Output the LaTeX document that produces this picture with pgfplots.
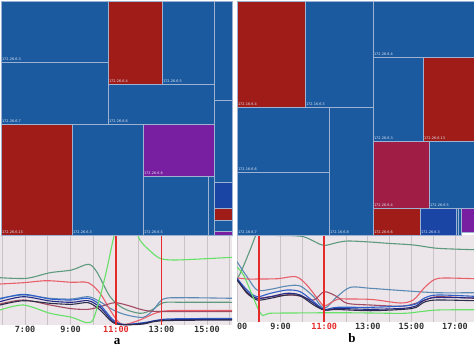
\documentclass[border=0pt]{standalone}
\usepackage{fontspec}
\usepackage{pgfplots}
\pgfplotsset{compat=1.18}
\setmainfont{DejaVu Sans}
\newfontfamily\tickfont{DejaVu Sans Mono}
\newfontfamily\capfont{Liberation Serif}
\definecolor{tmblue}{HTML}{1C5AA0}
\definecolor{tmred}{HTML}{A01C18}
\definecolor{tmpurple}{HTML}{781EA0}
\definecolor{tmcrimson}{HTML}{A01E46}
\definecolor{tmdblue}{HTML}{1A45A5}
\definecolor{tmline}{HTML}{9DB2D2}
\definecolor{lcbg}{HTML}{ECE6EA}
\definecolor{lcgrid}{HTML}{C9C3C7}
\definecolor{vred}{HTML}{E52A2A}
\definecolor{cGG}{HTML}{5E9A7E}
\definecolor{cSB}{HTML}{5B8BB5}
\definecolor{cRD}{HTML}{E8606A}
\definecolor{cMR}{HTML}{A34B62}
\definecolor{cBL}{HTML}{2F5FC9}
\definecolor{cNV}{HTML}{252A85}
\definecolor{cDK}{HTML}{2D2D4A}
\definecolor{cGR}{HTML}{66E066}
\newcommand{\tm}[5]{\addplot[fill=#5,draw=tmline,line width=0.6pt] coordinates {(#1,#2) (#3,#2) (#3,#4) (#1,#4) (#1,#2)};}
\newcommand{\tl}[3]{\node[anchor=south west,inner sep=0.8pt,font=\fontsize{3.5}{4}\selectfont,text=white!85!tmblue] at (axis cs:#1,#2) {#3};}
\pgfplotsset{
  lc/.style={scale only axis, axis background/.style={fill=lcbg},
    axis line style={draw=none}, ytick=\empty, major tick length=0pt,
    xmajorgrids, grid style={lcgrid, line width=0.9pt},
    xticklabel style={font=\tickfont\bfseries\fontsize{8.5}{9}\selectfont, text=black!80, anchor=north, inner sep=0pt, yshift=-0.8pt},
    every axis plot/.append style={line width=1.1pt, no markers}},
}
\begin{document}
\begin{tikzpicture}
\useasboundingbox (0pt,0pt) rectangle (474pt,-348pt);
% left line chart
\begin{axis}[lc, at={(0pt,-235pt)}, anchor=north west, width=232pt, height=90pt,
  xmin=5.9, xmax=16.1, ymin=0, ymax=90,
  xtick={6,...,16}, xticklabels={,7:00,,9:00,,{\color{vred}11:00},,13:00,,15:00,}]
\addplot[cGG, smooth] coordinates {(5.9,47.3) (7.07,46.7) (8.1,52.3) (9.05,55) (9.78,60.7) (10.15,53.3) (10.74,28.3) (11.32,16.7) (12.05,11.7) (12.57,15) (13.08,22.3) (13.96,22.7) (16.1,22.7)};
\addplot[cSB, smooth] coordinates {(5.9,26.7) (6.93,30) (8.1,26.7) (9.05,26) (9.78,28.3) (10.3,23.3) (10.88,15) (11.47,10) (12.2,7.7) (12.64,15) (13.08,26) (13.96,27.3) (16.1,26.7)};
\addplot[cRD, smooth] coordinates {(5.9,41) (6.93,42.3) (7.95,44.3) (9.05,42.7) (9.78,42.3) (10.3,31.7) (10.74,15) (11.1,3.3) (11.39,0.5) (12.05,5) (12.79,12.3) (13.52,14.5) (16.1,14.5)};
\addplot[cMR, smooth] coordinates {(5.9,21) (6.93,25) (8.1,20) (9.05,16.3) (9.78,15.7) (10.3,18.3) (10.95,22.3) (11.61,19) (12.2,15) (12.93,13.5) (16.1,13.5)};
\addplot[cBL, smooth] coordinates {(5.9,26) (6.93,30.7) (8.1,26) (9.05,25) (9.78,26.7) (10.3,20) (10.88,5) (11.32,0.7) (12.2,2.3) (13.08,5.7) (13.96,6.3) (16.1,6.7)};
\addplot[cNV, smooth] coordinates {(5.9,23.3) (6.93,28.3) (8.1,24) (9.05,22.7) (9.78,24.3) (10.3,17.7) (10.88,3.3) (11.32,0.3) (12.2,1.7) (13.08,5) (16.1,5.7)};
\addplot[cDK, smooth] coordinates {(5.9,20) (6.93,24.3) (8.1,21.7) (9.05,20.7) (9.78,22.3) (10.3,15) (10.88,2.3) (11.47,0.3) (12.2,1) (13.08,4.3) (16.1,5)};
\addplot[cGR, smooth] coordinates {(5.9,15) (6.93,20) (8.1,11.7) (9.05,7.7) (9.71,2.3) (10.0,5.7) (10.3,28.3) (10.59,55) (10.95,91.7) (11.32,108) (11.76,101.7) (12.05,85) (12.49,74.3) (12.93,66.7) (13.52,65) (14.69,66) (16.1,67.7)};
\addplot[ycomb, draw=vred, line width=1.6pt] coordinates {(11,90) (13,90)};
\end{axis}
% right line chart
\begin{scope}
\clip (237pt,0pt) rectangle (474pt,-348pt);
\begin{axis}[lc, at={(237pt,-235pt)}, anchor=north west, width=237pt, height=87pt,
  xmin=7, xmax=17.87, ymin=3, ymax=90,
  xtick={7,...,17}, xticklabels={7:00,,9:00,,{\color{vred}11:00},,13:00,,15:00,,17:00}]
\addplot[cGG, smooth] coordinates {(7.0,46) (7.2,54) (7.6,75) (7.95,94) (8.2,96) (8.55,90) (9.3,89.5) (10.05,88.3) (10.6,83) (11.0,79.5) (11.6,82.5) (12.1,84) (13.1,83) (13.9,81.7) (15.1,80) (16.2,76.7) (17.87,75.3)};
\addplot[cSB, smooth] coordinates {(7.0,63.3) (7.46,48.3) (7.92,35) (8.53,35.7) (9.29,39) (9.9,39) (10.52,28.3) (11.0,16.7) (11.59,28.3) (12.2,37.7) (13.12,36.7) (14.65,34.3) (16.17,32.3) (17.87,32.3)};
\addplot[cRD, smooth] coordinates {(7.0,47) (7.5,46) (8.0,46) (8.87,46.3) (9.7,48.3) (10.2,40) (10.85,22) (11.03,19) (11.6,25.7) (12.06,26) (13.2,25.5) (14.5,22) (15.1,25.3) (15.58,37) (16.04,45.3) (16.5,47) (17.87,46.3)};
\addplot[cMR, smooth] coordinates {(7.0,46.7) (7.46,31.7) (7.92,26.7) (8.53,28.3) (9.29,30) (9.9,29) (10.52,25) (11.0,33.3) (11.59,28.3) (12.05,21.7) (13.12,20) (14.65,19) (15.56,24.3) (16.17,28.3) (17.87,26.7)};
\addplot[cBL, smooth] coordinates {(7.0,46.7) (7.46,35) (7.92,28.3) (8.53,31.7) (9.29,35) (9.9,33.3) (10.52,23.3) (11.0,15.7) (11.59,17.7) (13.12,17.7) (14.65,19) (15.2,21) (15.6,27) (16.17,30) (17.87,28.7)};
\addplot[cNV, smooth] coordinates {(7.0,45.7) (7.46,33) (7.92,26.7) (8.53,28.3) (9.29,31.7) (9.9,30) (10.52,21.7) (11.0,15) (11.59,16.5) (13.12,15.7) (14.65,16.7) (15.2,19) (15.6,25) (16.17,27.5) (17.87,27)};
\addplot[cDK, smooth] coordinates {(7.0,45) (7.46,32) (7.92,25) (8.53,26.7) (9.29,30) (9.9,29) (10.52,20) (11.0,15) (11.59,15.5) (13.12,14.3) (14.65,15.7) (15.2,17.5) (15.6,23) (16.17,25) (17.87,24.3)};
\addplot[cGR, smooth] coordinates {(7.0,58) (7.3,50) (7.7,30) (7.95,17) (8.18,9.5) (8.5,11.7) (9.5,12) (11.6,12.3) (13.1,12) (14.65,11.7) (15.4,13.3) (16.2,15) (17.87,15.3)};
\addplot[ycomb, draw=vred, line width=1.6pt] coordinates {(8,90) (11,90)};
\end{axis}
\end{scope}
% treemaps
\begin{axis}[at={(0pt,0pt)}, anchor=north west, scale only axis, width=474pt, height=348pt,
  xmin=0, xmax=474, ymin=0, ymax=348, y dir=reverse, hide axis, clip=false]
\tm{1}{1}{108}{62}{tmblue}
\tm{1}{62}{108}{124}{tmblue}
\tm{108}{1}{162}{84}{tmred}
\tm{162}{1}{214}{84}{tmblue}
\tm{108}{84}{214}{124}{tmblue}
\tm{1}{124}{72}{235}{tmred}
\tm{72}{124}{143}{235}{tmblue}
\tm{143}{124}{214}{176}{tmpurple}
\tm{143}{176}{208}{235}{tmblue}
\tm{208}{176}{214}{235}{tmblue}
\tm{214}{1}{232}{100}{tmblue}
\tm{214}{100}{232}{182}{tmblue}
\tm{214}{182}{232}{208}{tmdblue}
\tm{214}{208}{232}{220}{tmred}
\tm{214}{220}{232}{231}{tmblue}
\tm{214}{231}{232}{235}{tmpurple}
\tl{1}{62}{172.26.6.3}
\tl{1}{124}{172.26.6.7}
\tl{108}{84}{172.26.6.4}
\tl{162}{84}{172.26.6.5}
\tl{108}{124}{172.26.6.6}
\tl{1}{235}{172.26.6.15}
\tl{72}{235}{172.26.6.3}
\tl{143}{176}{172.26.6.8}
\tl{143}{235}{172.26.6.5}
\tm{237}{1}{305}{107}{tmred}
\tm{305}{1}{373}{107}{tmblue}
\tm{237}{107}{329}{172}{tmblue}
\tm{237}{172}{329}{235}{tmblue}
\tm{329}{107}{373}{235}{tmblue}
\tm{373}{1}{474}{57}{tmblue}
\tm{373}{57}{423}{141}{tmblue}
\tm{423}{57}{474}{141}{tmred}
\tm{373}{141}{429}{208}{tmcrimson}
\tm{429}{141}{474}{208}{tmblue}
\tm{373}{208}{420}{235}{tmred}
\tm{420}{208}{456}{235}{tmdblue}
\tm{456}{208}{458.5}{235}{tmblue}
\tm{458.5}{208}{461}{235}{tmblue}
\tm{461}{208}{474}{232}{tmpurple}
\tl{237}{107}{172.16.6.4}
\tl{305}{107}{172.16.6.5}
\tl{237}{172}{172.16.6.6}
\tl{237}{235}{172.16.6.7}
\tl{329}{235}{172.16.6.8}
\tl{373}{57}{172.26.6.4}
\tl{373}{141}{172.26.6.3}
\tl{423}{141}{172.26.6.13}
\tl{373}{208}{172.26.6.4}
\tl{429}{208}{172.26.6.5}
\tl{373}{235}{172.26.6.6}
\tl{420}{235}{172.26.6.3}
\end{axis}
\node[font=\capfont\bfseries\fontsize{13}{15}\selectfont, inner sep=0pt] at (117pt,-341.5pt) {a};
\node[font=\capfont\bfseries\fontsize{13}{15}\selectfont, inner sep=0pt] at (352pt,-338.5pt) {b};
\end{tikzpicture}
\end{document}
